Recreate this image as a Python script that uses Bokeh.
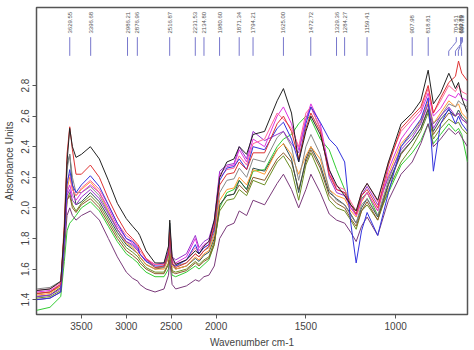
import math
from bokeh.plotting import figure
from bokeh.models import Range1d, FixedTicker, ColumnDataSource
from bokeh.core.properties import value
from bokeh.embed import file_html
from bokeh.resources import INLINE

# ---------------- data ----------------
wavenumber = [4000, 3850, 3730, 3690, 3660, 3630, 3600, 3560, 3500, 3400, 3300, 3200, 3100, 3000,
              2930, 2870, 2850, 2780, 2680, 2580, 2530, 2516, 2490, 2450, 2330, 2231, 2190, 2135,
              2080, 2020, 1980, 1940, 1900, 1871, 1830, 1794, 1730, 1660, 1625, 1580, 1540, 1500,
              1472, 1420, 1370, 1329, 1284, 1250, 1220, 1190, 1159, 1100, 1040, 970, 908, 860,
              819, 790, 750, 704, 667, 650, 632, 600]

s_black = [1.46, 1.47, 1.52, 1.85, 2.30, 2.52, 2.40, 2.33, 2.35, 2.40, 2.32, 2.18, 2.03, 1.93,
           1.88, 1.84, 1.82, 1.72, 1.64, 1.64, 1.75, 1.92, 1.68, 1.63, 1.66, 1.72, 1.70, 1.75,
           1.78, 1.92, 2.20, 2.30, 2.32, 2.40, 2.35, 2.48, 2.50, 2.70, 2.78, 2.62, 2.30, 2.50,
           2.60, 2.48, 2.25, 2.15, 2.08, 2.02, 1.98, 2.10, 2.16, 2.05, 2.30, 2.55, 2.62, 2.70,
           2.90, 2.68, 2.75, 2.88, 2.78, 2.82, 2.72, 2.62]
s_red = [1.44, 1.45, 1.50, 1.90, 2.35, 2.53, 2.38, 2.22, 2.22, 2.28, 2.20, 2.06, 1.94, 1.84,
         1.80, 1.76, 1.74, 1.67, 1.61, 1.62, 1.70, 1.84, 1.64, 1.61, 1.64, 1.70, 1.68, 1.72,
         1.75, 1.88, 2.15, 2.22, 2.23, 2.30, 2.25, 2.36, 2.36, 2.55, 2.60, 2.50, 2.32, 2.52,
         2.62, 2.50, 2.22, 2.12, 2.10, 2.02, 1.96, 2.08, 2.12, 2.00, 2.28, 2.52, 2.60, 2.66,
         2.80, 2.62, 2.72, 2.82, 2.86, 2.96, 2.88, 2.83]
s_blue = [1.40, 1.41, 1.45, 1.80, 2.15, 2.25, 2.15, 2.10, 2.15, 2.21, 2.14, 2.02, 1.90, 1.80,
          1.78, 1.74, 1.70, 1.65, 1.62, 1.62, 1.70, 1.82, 1.63, 1.62, 1.66, 1.76, 1.70, 1.74,
          1.76, 1.86, 2.18, 2.26, 2.27, 2.32, 2.25, 2.40, 2.38, 2.52, 2.56, 2.45, 2.30, 2.55,
          2.66, 2.56, 2.45, 2.40, 2.30, 1.90, 1.64, 1.85, 1.97, 1.82, 2.10, 2.40, 2.50, 2.58,
          2.72, 2.24, 2.55, 2.65, 2.55, 2.60, 2.55, 2.50]
s_magenta = [1.45, 1.46, 1.50, 1.82, 2.10, 2.15, 2.08, 2.05, 2.10, 2.15, 2.10, 2.00, 1.88, 1.80,
             1.77, 1.73, 1.70, 1.66, 1.63, 1.63, 1.70, 1.80, 1.66, 1.64, 1.68, 1.80, 1.72, 1.76,
             1.78, 1.90, 2.22, 2.27, 2.28, 2.38, 2.30, 2.45, 2.40, 2.60, 2.66, 2.55, 2.38, 2.58,
             2.68, 2.55, 2.25, 2.12, 2.10, 2.00, 1.95, 2.05, 2.10, 1.98, 2.25, 2.45, 2.55, 2.62,
             2.75, 2.60, 2.65, 2.74, 2.72, 2.75, 2.72, 2.70]
s_orange = [1.43, 1.44, 1.49, 1.80, 2.12, 2.20, 2.12, 2.08, 2.12, 2.17, 2.10, 1.98, 1.86, 1.77,
            1.74, 1.70, 1.68, 1.63, 1.60, 1.60, 1.67, 1.76, 1.62, 1.60, 1.62, 1.68, 1.66, 1.70,
            1.72, 1.82, 2.05, 2.12, 2.13, 2.20, 2.15, 2.25, 2.22, 2.38, 2.42, 2.35, 2.22, 2.34,
            2.40, 2.32, 2.12, 2.08, 2.06, 1.98, 1.94, 2.04, 2.10, 1.98, 2.22, 2.42, 2.50, 2.57,
            2.70, 2.55, 2.62, 2.70, 2.66, 2.68, 2.62, 2.58]
s_purple = [1.42, 1.43, 1.47, 1.78, 2.08, 2.12, 2.05, 2.02, 2.07, 2.12, 2.06, 1.96, 1.86, 1.78,
            1.76, 1.72, 1.70, 1.66, 1.63, 1.64, 1.72, 1.86, 1.68, 1.66, 1.70, 1.82, 1.74, 1.78,
            1.80, 1.92, 2.24, 2.28, 2.29, 2.40, 2.32, 2.50, 2.44, 2.48, 2.50, 2.42, 2.36, 2.58,
            2.66, 2.52, 2.20, 2.10, 2.08, 2.00, 1.96, 2.08, 2.14, 2.02, 2.20, 2.38, 2.46, 2.55,
            2.68, 2.52, 2.60, 2.66, 2.60, 2.62, 2.58, 2.55]
s_olive = [1.41, 1.42, 1.46, 1.75, 2.05, 2.10, 2.02, 1.98, 2.03, 2.08, 2.02, 1.92, 1.82, 1.74,
           1.71, 1.68, 1.66, 1.61, 1.58, 1.58, 1.64, 1.74, 1.59, 1.58, 1.60, 1.65, 1.63, 1.66,
           1.68, 1.78, 1.98, 2.05, 2.06, 2.12, 2.08, 2.18, 2.15, 2.30, 2.34, 2.25, 2.05, 2.28,
           2.36, 2.22, 2.05, 2.00, 1.98, 1.92, 1.86, 1.98, 2.02, 1.92, 2.12, 2.30, 2.40, 2.50,
           2.62, 2.45, 2.52, 2.58, 2.55, 2.56, 2.52, 2.48]
s_green = [1.33, 1.35, 1.42, 1.65, 1.85, 1.90, 1.92, 1.95, 2.00, 2.04, 1.98, 1.88, 1.78, 1.70,
           1.67, 1.64, 1.62, 1.58, 1.55, 1.55, 1.60, 1.70, 1.56, 1.55, 1.58, 1.62, 1.60, 1.63,
           1.66, 1.76, 2.00, 2.10, 2.12, 2.18, 2.12, 2.24, 2.25, 2.40, 2.45, 2.48, 2.55, 2.60,
           2.58, 2.45, 2.38, 2.25, 2.12, 2.02, 1.98, 2.06, 2.10, 1.95, 2.10, 2.28, 2.36, 2.44,
           2.55, 2.42, 2.48, 2.55, 2.50, 2.52, 2.48, 2.30]
s_gray = [1.47, 1.48, 1.52, 1.82, 2.25, 2.35, 2.20, 2.10, 2.10, 2.14, 2.08, 1.97, 1.86, 1.78,
          1.75, 1.72, 1.70, 1.65, 1.61, 1.61, 1.68, 1.80, 1.64, 1.62, 1.64, 1.70, 1.68, 1.72,
          1.74, 1.84, 2.10, 2.18, 2.19, 2.26, 2.20, 2.32, 2.30, 2.46, 2.50, 2.40, 2.18, 2.40,
          2.48, 2.35, 2.12, 2.05, 2.02, 1.95, 1.90, 2.02, 2.06, 1.95, 2.18, 2.40, 2.48, 2.56,
          2.68, 2.55, 2.60, 2.68, 2.66, 2.70, 2.68, 2.66]
s_brown = [1.44, 1.45, 1.49, 1.78, 2.05, 2.08, 2.00, 1.97, 2.02, 2.06, 2.00, 1.90, 1.80, 1.72,
           1.69, 1.66, 1.64, 1.60, 1.57, 1.57, 1.63, 1.74, 1.58, 1.57, 1.59, 1.64, 1.62, 1.65,
           1.67, 1.76, 2.02, 2.08, 2.09, 2.15, 2.10, 2.20, 2.18, 2.32, 2.36, 2.30, 2.12, 2.30,
           2.38, 2.26, 2.08, 2.03, 2.00, 1.93, 1.88, 1.98, 2.04, 1.92, 2.15, 2.35, 2.44, 2.52,
           2.65, 2.48, 2.55, 2.62, 2.60, 2.62, 2.58, 2.55]
s_darkpurple = [1.40, 1.41, 1.45, 1.72, 1.95, 2.00, 1.95, 1.92, 1.95, 1.98, 1.92, 1.80, 1.68, 1.58,
                1.54, 1.52, 1.50, 1.47, 1.45, 1.47, 1.56, 1.66, 1.50, 1.47, 1.49, 1.53, 1.52, 1.55,
                1.56, 1.62, 1.80, 1.88, 1.90, 1.98, 1.95, 2.05, 2.02, 2.16, 2.22, 2.12, 2.00, 2.12,
                2.22, 2.10, 1.96, 1.92, 1.90, 1.84, 1.78, 1.88, 1.94, 1.82, 2.05, 2.22, 2.30, 2.42,
                2.55, 2.40, 2.45, 2.52, 2.48, 2.50, 2.46, 2.40]
s_pink = [1.46, 1.47, 1.51, 1.85, 2.18, 2.22, 2.12, 2.08, 2.13, 2.18, 2.12, 2.02, 1.90, 1.82,
          1.79, 1.75, 1.72, 1.67, 1.63, 1.63, 1.70, 1.82, 1.65, 1.63, 1.66, 1.74, 1.70, 1.74,
          1.76, 1.88, 2.20, 2.25, 2.26, 2.34, 2.28, 2.42, 2.45, 2.62, 2.58, 2.52, 2.40, 2.62,
          2.66, 2.52, 2.22, 2.14, 2.12, 2.04, 1.98, 2.10, 2.16, 2.04, 2.30, 2.50, 2.58, 2.64,
          2.78, 2.62, 2.70, 2.80, 2.76, 2.80, 2.76, 2.74]
s_slate = [1.42, 1.43, 1.48, 1.85, 2.28, 2.35, 2.15, 2.02, 2.04, 2.10, 2.04, 1.94, 1.84, 1.76,
           1.73, 1.70, 1.68, 1.63, 1.60, 1.61, 1.72, 1.90, 1.64, 1.60, 1.62, 1.67, 1.65, 1.69,
           1.71, 1.80, 2.02, 2.08, 2.09, 2.18, 2.12, 2.26, 2.24, 2.38, 2.42, 2.32, 2.10, 2.32,
           2.40, 2.28, 2.10, 2.06, 2.02, 1.96, 1.90, 2.00, 2.06, 1.94, 2.16, 2.36, 2.44, 2.52,
           2.64, 2.50, 2.58, 2.64, 2.60, 2.64, 2.60, 2.56]

series = [s_green, s_darkpurple, s_olive, s_brown, s_slate, s_orange, s_gray, s_purple,
          s_magenta, s_pink, s_blue, s_red, s_black]
colors = ["#33cc33", "#7a3a7a", "#6b8e23", "#8b5a2b", "#2f4f4f", "#ff9933", "#888888", "#9933cc",
          "#dd33dd", "#ff6699", "#3333dd", "#dd3333", "#222222"]

peak_labels = ["3629.55", "3396.68", "2986.21", "2876.96", "2516.87", "2231.53", "2134.80",
               "1980.60", "1871.34", "1794.21", "1625.00", "1472.72", "1329.36", "1284.27",
               "1159.41", "907.98", "818.81", "704.51", "667.13", "650.89", "632.79"]
peak_positions = [float(s) for s in peak_labels]

x_ticks = [3500, 3000, 2500, 2000, 1500, 1000]
y_ticks = [1.4, 1.6, 1.8, 2.0, 2.2, 2.4, 2.6, 2.8]


# OPUS-style axis: region above 2000 cm-1 shown at half scale
def disp(w):
    return w if w <= 2000 else 2000 + (w - 2000) / 2.0


p = figure(width=474, height=350, output_backend="svg", toolbar_location=None,
           x_range=Range1d(disp(4000), disp(600)), y_range=Range1d(1.303, 3.31),
           min_border_left=10, min_border_right=7, min_border_top=7, min_border_bottom=10)
p.background_fill_color = "white"
p.border_fill_color = "white"
p.xgrid.visible = False
p.ygrid.visible = False
p.outline_line_color = "#555555"
p.outline_line_width = 1.5

xd = [disp(w) for w in wavenumber]
for s, c in zip(series, colors):
    p.line(xd, s, line_color=c, line_width=1)

# peak annotation markers (crowded labels at the right are spread apart)
off = {"704.51": -42, "667.13": -39, "650.89": -17, "632.79": 6}
y_top, y_mid, y_bot = 3.116, 3.055, 2.994
xs_l, ys_l, lab_x = [], [], []
for lab, w in zip(peak_labels, peak_positions):
    xa = disp(w)
    xl = xa + off.get(lab, 0)
    lab_x.append(xl)
    if xl == xa:
        xs_l.append([xa, xa])
        ys_l.append([y_top, y_bot])
    else:
        xs_l.append([xl, xl, (xl + xa) / 2, xa, xa])
        ys_l.append([y_top, y_mid + 0.03, y_mid, y_mid - 0.03, y_bot])
p.multi_line(xs_l, ys_l, line_color="#7777cc", line_width=1)
src = ColumnDataSource(dict(x=lab_x, y=[3.14] * len(lab_x), t=peak_labels))
p.text(x="x", y="y", text="t", source=src, angle=math.pi / 2, text_align="left",
       text_baseline="middle", text_font_size="6px", text_color="#555555",
       text_font=value("Liberation Sans"))

# axes
p.xaxis.ticker = FixedTicker(ticks=[disp(t) for t in x_ticks])
p.xaxis.major_label_overrides = {disp(t): str(t) for t in x_ticks}
p.yaxis.ticker = FixedTicker(ticks=y_ticks)
p.yaxis.major_label_overrides = {t: f"{t:.1f}" for t in y_ticks}
p.yaxis.major_label_orientation = "vertical"
p.xaxis.axis_label = "Wavenumber cm-1"
p.yaxis.axis_label = "Absorbance Units"
for ax in (p.xaxis, p.yaxis):
    ax.minor_tick_line_color = None
    ax.major_tick_out = 4
    ax.major_tick_in = 0
    ax.axis_line_color = "#555555"
    ax.major_tick_line_color = "#555555"
    ax.major_label_text_font = "Liberation Sans"
    ax.major_label_text_font_size = "10px"
    ax.major_label_text_color = "#444444"
    ax.axis_label_text_font = "Liberation Sans"
    ax.axis_label_text_font_size = "10px"
    ax.axis_label_text_font_style = "normal"
    ax.axis_label_text_color = "#444444"
    ax.major_label_standoff = 3
    ax.axis_label_standoff = 4

open("out.html", "w").write(file_html(p, INLINE))
